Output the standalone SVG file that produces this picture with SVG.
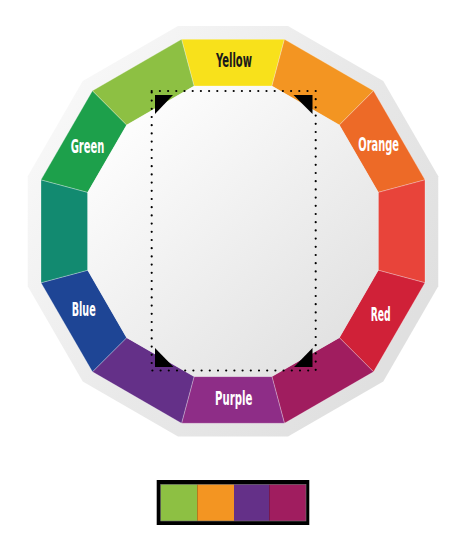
<svg xmlns="http://www.w3.org/2000/svg" width="467" height="550" viewBox="0 0 467 550">
<defs>
<linearGradient id="gGrey" x1="0.05" y1="0.1" x2="0.95" y2="0.7">
<stop offset="0" stop-color="#fafafa"/>
<stop offset="0.55" stop-color="#e9e9e9"/>
<stop offset="1" stop-color="#e0e0e0"/>
</linearGradient>
<linearGradient id="gInner" x1="0.1" y1="0.05" x2="0.9" y2="0.95">
<stop offset="0" stop-color="#ffffff"/>
<stop offset="1" stop-color="#e0e0e0"/>
</linearGradient>
<style>
.seg{stroke:#ffffff;stroke-opacity:0.35;stroke-width:0.8;stroke-linejoin:round}
.lbl{font-family:"Liberation Sans Narrow","DejaVu Sans Condensed","Liberation Sans",sans-serif;font-weight:bold;font-size:20px;text-anchor:middle;fill:#ffffff}
.dots{fill:none;stroke:#000;stroke-width:2.2;stroke-linecap:round;stroke-dasharray:0 8.2}
</style>
</defs>
<rect width="467" height="550" fill="#ffffff"/>
<g id="shadow">
<polygon points="178,26.04 288,26.04 383.26,81.04 438.26,176.3 438.26,286.3 383.26,381.56 288,436.56 178,436.56 82.74,381.56 27.74,286.3 27.74,176.3 82.74,81.04" fill="url(#gGrey)"/>
</g>
<g id="wheel">
<g id="yellow"><polygon class="seg" fill="#f8e11b" points="181.55,39.3 284.45,39.3 271.93,86 194.07,86"/><text class="lbl" x="234" y="66.8" textLength="36" lengthAdjust="spacingAndGlyphs" style="fill:#1a1a1a">Yellow</text></g>
<g id="yellow-orange"><polygon class="seg" fill="#f39522" points="284.45,39.3 373.55,90.75 339.37,124.93 271.93,86"/></g>
<g id="orange"><polygon class="seg" fill="#ed6a27" points="373.55,90.75 425,179.85 378.3,192.37 339.37,124.93"/><text class="lbl" x="378.7" y="151" textLength="40.7" lengthAdjust="spacingAndGlyphs">Orange</text></g>
<g id="red-orange"><polygon class="seg" fill="#e8443a" points="425,179.85 425,282.75 378.3,270.23 378.3,192.37"/></g>
<g id="red"><polygon class="seg" fill="#d02138" points="425,282.75 373.55,371.85 339.37,337.67 378.3,270.23"/><text class="lbl" x="380.7" y="321" textLength="20" lengthAdjust="spacingAndGlyphs">Red</text></g>
<g id="red-purple"><polygon class="seg" fill="#a01d5f" points="373.55,371.85 284.45,423.3 271.93,376.6 339.37,337.67"/></g>
<g id="purple"><polygon class="seg" fill="#8e2d87" points="284.45,423.3 181.55,423.3 194.07,376.6 271.93,376.6"/><text class="lbl" x="233.7" y="405.3" textLength="37.3" lengthAdjust="spacingAndGlyphs">Purple</text></g>
<g id="blue-purple"><polygon class="seg" fill="#643088" points="181.55,423.3 92.45,371.85 126.63,337.67 194.07,376.6"/></g>
<g id="blue"><polygon class="seg" fill="#1e4595" points="92.45,371.85 41,282.75 87.7,270.23 126.63,337.67"/><text class="lbl" x="83.7" y="316.3" textLength="24" lengthAdjust="spacingAndGlyphs">Blue</text></g>
<g id="blue-green"><polygon class="seg" fill="#128a70" points="41,282.75 41,179.85 87.7,192.37 87.7,270.23"/></g>
<g id="green"><polygon class="seg" fill="#1da04b" points="41,179.85 92.45,90.75 126.63,124.93 87.7,192.37"/><text class="lbl" x="87.5" y="153" textLength="33.6" lengthAdjust="spacingAndGlyphs">Green</text></g>
<g id="yellow-green"><polygon class="seg" fill="#8dc043" points="92.45,90.75 181.55,39.3 194.07,86 126.63,124.93"/></g>
</g>
<g id="center">
<polygon points="194.07,86 271.93,86 339.37,124.93 378.3,192.37 378.3,270.23 339.37,337.67 271.93,376.6 194.07,376.6 126.63,337.67 87.7,270.23 87.7,192.37 126.63,124.93" fill="url(#gInner)"/>
</g>
<g id="selection">
<rect class="dots" x="151.7" y="91" width="164" height="279.5"/>
<polygon points="155,95 173,95 155,114" fill="#000"/>
<polygon points="293.5,95 312.5,95 312.5,114" fill="#000"/>
<polygon points="155,348 155,367 173.5,367" fill="#000"/>
<polygon points="312.5,348 312.5,367 294,367" fill="#000"/>
</g>
<g id="palette">
<rect x="158.7" y="482" width="148.6" height="41" fill="#000" stroke="#000" stroke-width="4"/>
<rect x="160.7" y="484.3" width="36.6" height="36.7" fill="#8dc043"/>
<rect x="197.3" y="484.3" width="36.7" height="36.7" fill="#f39522"/>
<rect x="234" y="484.3" width="35.3" height="36.7" fill="#643088"/>
<rect x="269.3" y="484.3" width="36.7" height="36.7" fill="#a01d5f"/>
<rect x="160.7" y="484.3" width="145.3" height="36.7" fill="none" stroke="#777" stroke-width="0.6"/>
</g>
</svg>
